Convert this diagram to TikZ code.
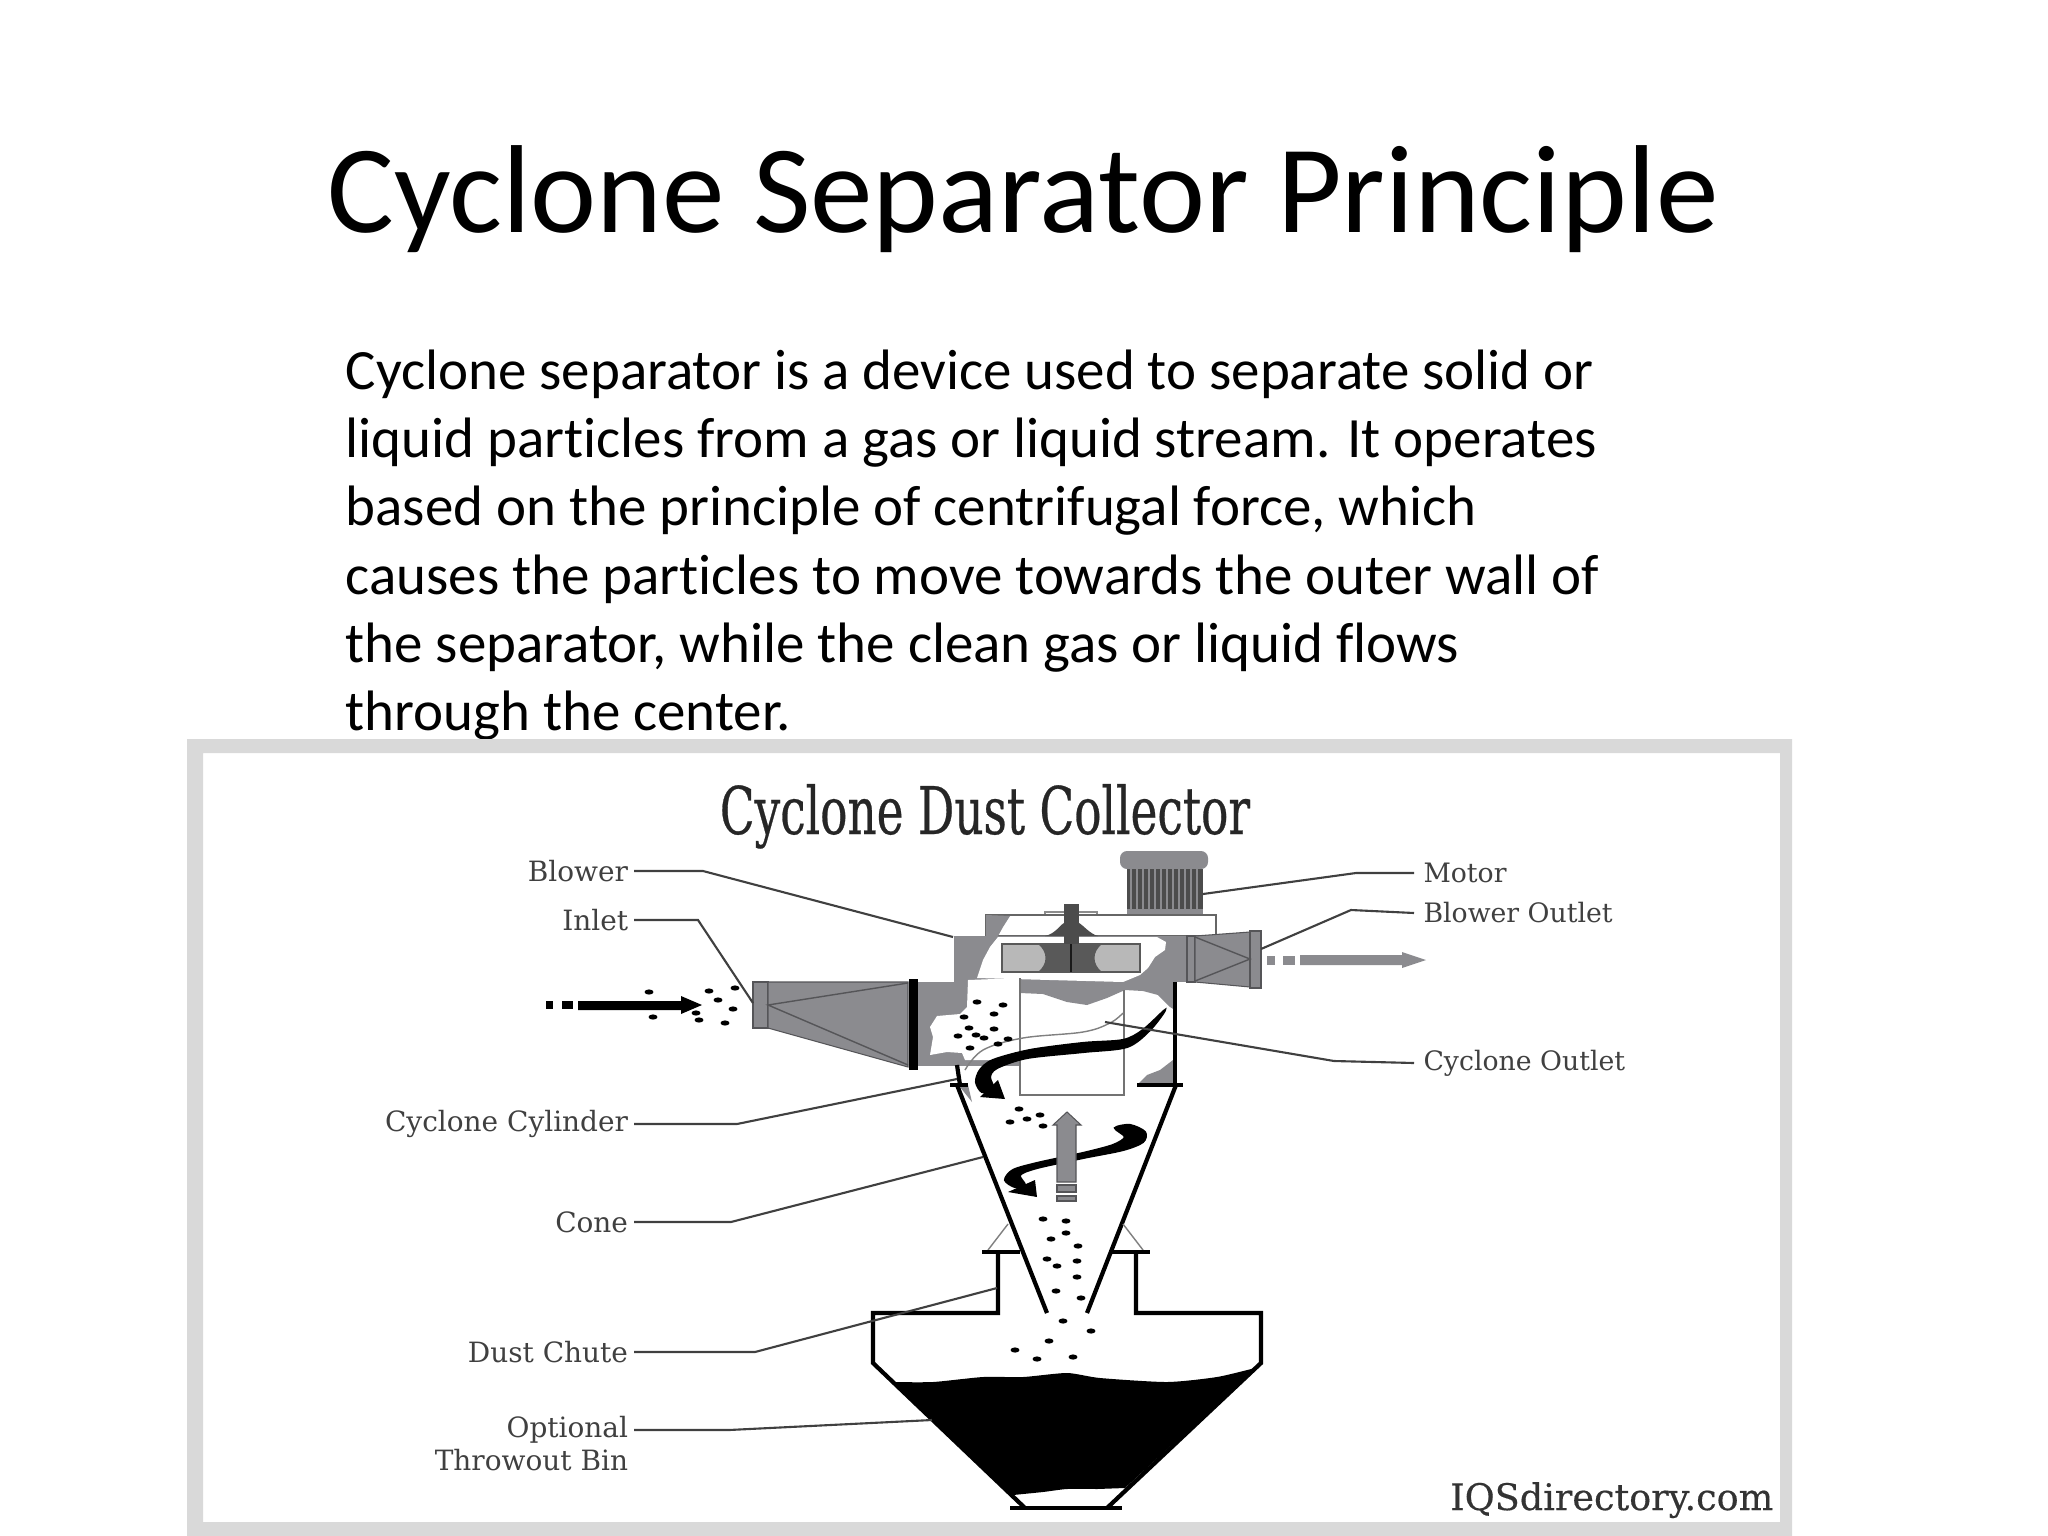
\documentclass[tikz,border=0pt]{standalone}
\usepackage{fontspec}
\setmainfont[Ligatures=NoCommon]{Carlito}
\newfontfamily\slabfont{DejaVu Serif}
\newfontfamily\slabnarrow[FakeStretch=0.69, FakeBold=0.4]{DejaVu Serif}
\newfontfamily\slabheavy[FakeBold=0.4]{DejaVu Serif}
\usetikzlibrary{positioning}
\definecolor{duct}{HTML}{8B8B8F}
\definecolor{edge}{HTML}{555558}
\definecolor{band}{HTML}{D9D9D9}
\definecolor{labeltext}{HTML}{404040}
\tikzset{
    partlabel/.style={font=\slabfont\fontsize{7.95}{9.5}\selectfont, text=labeltext, inner ysep=0pt, inner xsep=1.5pt},
    partlabelr/.style={font=\slabfont\fontsize{7.6}{9}\selectfont, text=labeltext, inner ysep=0pt, inner xsep=2.5pt},
    leader/.style={draw=black!75, line width=0.6pt},
    wall/.style={draw=black, line width=1.2pt},
    ductpart/.style={fill=duct, draw=edge, line width=0.3pt},
    speck/.style={fill=black},
    swirl/.style={fill=black, draw=black, line width=0.6pt},
}

\begin{document}
\begin{tikzpicture}[x=0.01cm, y=-0.01cm]
    \useasboundingbox (0, 0) rectangle (2048, 1536);
    \fill[white] (0, 0) rectangle (2048, 1536);

    % Slide text
    \node[anchor=base, inner sep=0pt, font=\fontsize{35.6}{42}\selectfont] (title) at (1023, 232) {Cyclone Separator Principle};
    \node[anchor=north west, inner sep=0pt, align=left, font=\fontsize{16.2}{19.43}\selectfont] (body) at (345, 349) {Cyclone separator is a device used to separate solid or\\
        liquid particles from a gas or liquid stream. It operates\\
        based on the principle of centrifugal force, which\\
        causes the particles to move towards the outer wall of\\
        the separator, while the clean gas or liquid flows\\
        through the center.};

    % Frame
    \fill[band, even odd rule] (187, 739) rectangle (1792, 1536) (203, 753) rectangle (1780, 1522);

    % Heading
    \node[anchor=base, inner sep=0pt, text=black!85, font=\slabnarrow\fontsize{18.7}{22}\selectfont] (heading) at (985, 834) {Cyclone Dust Collector};
    \node[anchor=base east, inner sep=0pt, text=black!80, font=\slabheavy\fontsize{10.4}{12}\selectfont] (site) at (1774, 1510) {IQSdirectory.com};

    % Motor
    \fill[duct, rounded corners=2pt] (1120, 869) -- (1120, 851) -- (1208, 851) -- (1208, 869) -- cycle;
    \fill[black!70] (1127, 869) rectangle (1203, 915);
    \foreach \xs in {1131, 1137, ..., 1201} {
        \draw[duct, line width=0.4pt] (\xs, 869) -- (\xs, 909);
    }
    \fill[duct] (1127, 909) rectangle (1203, 915);

    % Blower housing
    \draw[black!45, line width=0.3pt] (1045, 915) -- (1045, 912) -- (1097, 912) -- (1097, 915);
    \draw[fill=white, draw=black!60, line width=0.4pt] (986, 915) rectangle (1216, 936);
    \fill[duct] (986, 915) -- (1010, 916) -- (1003, 927) -- (998, 936) -- (986, 936) -- cycle;
    \fill[duct] (954, 936) rectangle (1187, 982);
    \fill[white] (998, 937) -- (1157, 937) -- (1166, 942) -- (1165, 950) -- (1155, 957) -- (1148, 968) -- (1140, 975) -- (1123, 982) -- (977, 978) -- (983, 960) -- (990, 947) -- cycle;

    % Impeller
    \draw[fill=black!28, draw=black!65, line width=0.4pt] (1002, 944) rectangle (1140, 972);
    \fill[black!65] (1038, 944) .. controls (1048, 952) and (1048, 964) .. (1038, 972) -- (1102, 972) .. controls (1092, 964) and (1092, 952) .. (1102, 944) -- cycle;
    \draw[black!90, line width=0.4pt] (1071, 944) -- (1071, 972);
    \fill[black!70] (1045, 936) .. controls (1055, 934) and (1060, 925) .. (1064, 923) -- (1079, 923) .. controls (1083, 925) and (1090, 934) .. (1098, 936) -- cycle;
    \fill[black!70] (1064, 904) rectangle (1079, 944);

    % Blower outlet
    \draw[ductpart] (1187, 936) rectangle (1195, 982);
    \draw[ductpart] (1195, 936) -- (1250, 932) -- (1250, 987) -- (1195, 982) -- cycle;
    \draw[ductpart] (1250, 931) rectangle (1261, 988);
    \draw[edge, line width=0.4pt] (1195, 937) -- (1250, 959) -- (1195, 981);
    \fill[duct] (1267, 956) rectangle (1275, 965);
    \fill[duct] (1283, 956) rectangle (1295, 965);
    \fill[duct] (1300, 955) -- (1402, 955) -- (1402, 952) -- (1426, 960) -- (1402, 968) -- (1402, 965) -- (1300, 965) -- cycle;

    % Inlet duct
    \draw[ductpart] (753, 982) rectangle (768, 1028);
    \draw[ductpart] (768, 982) -- (908, 982) -- (908, 1067) -- (768, 1028) -- cycle;
    \draw[edge, line width=0.4pt] (908, 983) -- (768, 1005) -- (908, 1065);
    \fill[duct] (917, 982) rectangle (1020, 1066);
    \fill[black] (909, 979) rectangle (918, 1070);
    \fill[white] (930, 1027) -- (937, 1016) -- (960, 1014) -- (967, 1007) -- (968, 980) -- (1020, 978) -- (1020, 1060) -- (965, 1060) -- (962, 1053) -- (947, 1052) -- (930, 1055) -- (933, 1037) -- cycle;
    \fill[black] (546, 1001) rectangle (553, 1009);
    \fill[black] (562, 1001) rectangle (573, 1009);
    \fill[black] (578, 1001) -- (681, 1001) -- (681, 996) -- (702, 1005) -- (681, 1014) -- (681, 1010) -- (578, 1010) -- cycle;

    % Cylinder
    \fill[duct] (1020, 982) -- (1175, 982) -- (1175, 1010) -- (1170, 1007) -- (1158, 995) -- (1143, 991) -- (1125, 990) -- (1107, 998) -- (1087, 1005) -- (1067, 1002) -- (1043, 994) -- (1020, 993) -- cycle;
    \fill[duct] (1138, 1084) -- (1147, 1075) -- (1160, 1070) -- (1173, 1060) -- (1175, 1084) -- cycle;
    \fill[duct] (960, 1087) -- (968, 1085) -- (972, 1102) -- cycle;
    \draw[black!55, line width=0.4pt] (1020, 978) -- (1020, 1095) -- (1124, 1095) -- (1124, 990);
    \draw[wall] (1175, 982) -- (1175, 1085);
    \draw[wall] (957, 1065) -- (960, 1085);
    \draw[wall] (1137, 1085) -- (1183, 1085);
    \draw[wall] (950, 1085) -- (968, 1085);
    \draw[black!50, line width=0.4pt] plot[smooth, tension=0.6] coordinates {(965, 1070) (983, 1050) (1023, 1038) (1083, 1032) (1110, 1023) (1123, 1013)};

    % Cone
    \draw[wall] (957, 1085) -- (1047, 1313);
    \draw[wall] (1176, 1085) -- (1087, 1313);

    % Swirl
    \filldraw[swirl] plot[smooth cycle, tension=0.5] coordinates {(1165, 1010) (1143, 1030) (1123, 1040) (1083, 1043) (1030, 1050) (993, 1060) (980, 1070) (976, 1082) (982, 1092) (994, 1090) (990, 1077) (997, 1068) (1027, 1058) (1083, 1052) (1127, 1047) (1150, 1030)};
    \fill[black] (980, 1097) -- (1005, 1099) -- (998, 1080) -- cycle;
    \filldraw[swirl] plot[smooth cycle, tension=0.5] coordinates {(1115, 1128) (1130, 1125) (1145, 1132) (1143, 1142) (1123, 1150) (1083, 1158) (1037, 1168) (1020, 1175) (1025, 1185) (1015, 1187) (1005, 1180) (1013, 1170) (1037, 1163) (1083, 1153) (1113, 1145) (1125, 1137)};
    \fill[black] (1008, 1192) -- (1037, 1197) -- (1035, 1180) -- cycle;

    % Gas arrow
    \draw[ductpart] (1057, 1182) -- (1057, 1125) -- (1053, 1125) -- (1067, 1112) -- (1081, 1125) -- (1076, 1125) -- (1076, 1182) -- cycle;
    \draw[ductpart] (1057, 1185) rectangle (1076, 1192);
    \draw[ductpart] (1057, 1196) rectangle (1076, 1201);

    % Chute and bin
    \draw[black!50, line width=0.4pt] (988, 1250) -- (1008, 1224);
    \draw[black!50, line width=0.4pt] (1143, 1250) -- (1123, 1224);
    \draw[wall] (982, 1252) -- (1020, 1252);
    \draw[wall] (1112, 1252) -- (1150, 1252);
    \draw[wall] (998, 1252) -- (998, 1313) -- (873, 1313) -- (873, 1363) -- (1025, 1508);
    \draw[wall] (1136, 1252) -- (1136, 1313) -- (1261, 1313) -- (1261, 1363) -- (1107, 1508);
    \draw[wall] (1010, 1508) -- (1122, 1508);

    % Dust
    \fill[black] plot[smooth, tension=0.4] coordinates {(892, 1382) (933, 1382) (983, 1377) (1023, 1377) (1067, 1373) (1100, 1378) (1167, 1382) (1217, 1377) (1255, 1368)} -- (1125, 1488) -- plot[smooth, tension=0.4] coordinates {(1097, 1489) (1067, 1489) (1043, 1492) (1013, 1495)} -- cycle;

    % Particles
    \foreach \xp/\yp in {649/992, 653/1017, 709/991, 718/1000, 735/988, 733/1009, 696/1013, 699/1020, 725/1023,
        977/1002, 1003/1005, 964/1017, 994/1014, 969/1028, 994/1029, 958/1036, 976/1035, 984/1038, 1008/1039, 998/1044, 970/1048,
        1019/1109, 1027/1119, 1040/1115, 1010/1122, 1043/1126,
        1043/1219, 1066/1221, 1066/1233, 1051/1239, 1078/1246, 1047/1259, 1077/1261, 1057/1266, 1077/1277, 1056/1291, 1081/1298,
        1063/1321, 1091/1331, 1049/1341, 1015/1350, 1037/1359, 1073/1357} {
        \fill[speck] (\xp, \yp) ellipse [x radius=4.5, y radius=2.6];
    }

    % Labels left
    \node[partlabel, anchor=east] (lblower) at (634, 871) {Blower};
    \node[partlabel, anchor=east] (linlet) at (634, 920) {Inlet};
    \node[partlabel, anchor=east] (lcylinder) at (634, 1124) {Cyclone Cylinder};
    \node[partlabel, anchor=east] (lcone) at (634, 1222) {Cone};
    \node[partlabel, anchor=east] (lchute) at (634, 1352) {Dust Chute};
    \node[partlabel, anchor=east] (loptional) at (634, 1430) {Optional};
    \node[partlabel, anchor=east] (lbin) at (634, 1460) {Throwout Bin};

    % Labels right
    \node[partlabelr, anchor=west] (lmotor) at (1414, 873) {Motor};
    \node[partlabelr, anchor=west] (lblowerout) at (1414, 913) {Blower Outlet};
    \node[partlabelr, anchor=west] (lcycloneout) at (1414, 1063) {Cyclone Outlet};

    % Leader ends
    \coordinate (eblower) at (953, 937);
    \coordinate (einlet) at (753, 1003);
    \coordinate (ecylinder) at (957, 1079);
    \coordinate (econe) at (983, 1157);
    \coordinate (echute) at (997, 1288);
    \coordinate (eoptional) at (932, 1420);
    \coordinate (emotor) at (1203, 894);
    \coordinate (eblowerout) at (1261, 949);
    \coordinate (ecycloneout) at (1105, 1022);

    % Leaders
    \draw[leader] (lblower.east) -- (703, 871) -- (eblower);
    \draw[leader] (linlet.east) -- (698, 920) -- (einlet);
    \draw[leader] (lcylinder.east) -- (737, 1124) -- (ecylinder);
    \draw[leader] (lcone.east) -- (731, 1222) -- (econe);
    \draw[leader] (lchute.east) -- (755, 1352) -- (echute);
    \draw[leader] (loptional.east) -- (729, 1430) -- (eoptional);
    \draw[leader] (lmotor.west) -- (1356, 873) -- (emotor);
    \draw[leader] (lblowerout.west) -- (1351, 910) -- (eblowerout);
    \draw[leader] (lcycloneout.west) -- (1334, 1061) -- (ecycloneout);
\end{tikzpicture}
\end{document}
